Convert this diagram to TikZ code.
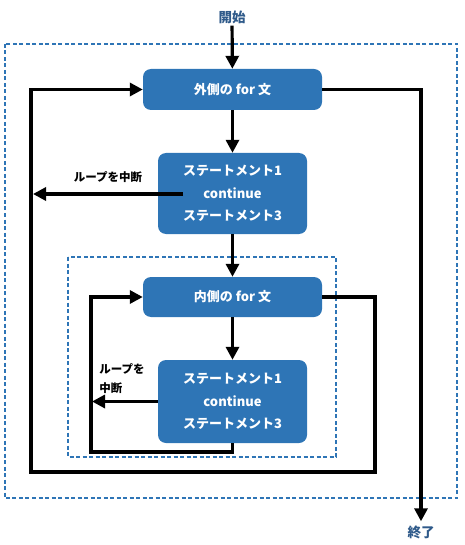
\documentclass[tikz,border=0pt]{standalone}
\usepackage{fontspec}
\setmainfont{Noto Sans CJK JP}
\usetikzlibrary{arrows.meta}
\definecolor{boxblue}{HTML}{2E75B6}
\definecolor{titleblue}{HTML}{2F5A8A}
\tikzset{
  proc/.style={draw=none, fill=boxblue, rounded corners=8pt, text=white,
    font=\fontsize{13}{22.5}\selectfont\bfseries, align=center, inner sep=0pt},
  term/.style={text=titleblue, font=\fontsize{13.5}{16}\selectfont\bfseries, inner sep=2pt},
  lbl/.style={text=black, font=\fontsize{11.5}{19}\selectfont\bfseries, inner sep=0pt},
  arr/.style={line width=3.2pt, -{Triangle[width=13pt,length=13pt]}},
  frame/.style={draw=boxblue, line width=1.5pt, dash pattern=on 4pt off 2.5pt},
}
\begin{document}
\begin{tikzpicture}[x=1pt,y=-1pt]
\useasboundingbox (0,0) rectangle (464,545);
% dashed frames
\draw[frame] (5,44) rectangle (457,498);
\draw[frame] (68,257) rectangle (336,457);
% nodes
\node[term] (start) at (232,17) {開始};
\node[proc, minimum width=179pt, minimum height=41pt] (outer) at (232.5,89.5) {外側の for 文};
\node[proc, minimum width=149pt, minimum height=81pt] (s1) at (232.5,193.5) {ステートメント1\\continue\\ステートメント3};
\node[proc, minimum width=179pt, minimum height=40pt] (inner) at (232.5,297) {内側の for 文};
\node[proc, minimum width=149pt, minimum height=83pt] (s2) at (232.5,401.5) {ステートメント1\\continue\\ステートメント3};
\node[term, inner sep=4pt] (end) at (421,532) {終了};
\node[lbl] (l1) at (108,177) {ループを中断};
\node[lbl, align=left] (l2) at (122,379) {ループを\\中断};
% coordinates
\coordinate (c1) at (375,472);
\coordinate (c2) at (31,89.5);
\coordinate (c3) at (91,452);
\coordinate (b1s) at (183,194);
\coordinate (b1e) at (33,194);
\coordinate (b2e) at (92,401.5);
% connectors
\draw[arr] (start) -- (outer);
\draw[arr] (outer) -- (s1);
\draw[arr] (s1) -- (inner);
\draw[arr] (inner) -- (s2);
\draw[arr] (outer.east) -| (end.north);
\draw[arr] (inner.east) -| (c1) -| (c2) -- (outer.west);
\draw[arr] (s2.south) |- (c3) |- (inner.west);
\draw[arr] (b1s) -- (b1e);
\draw[arr] (s2.west) -- (b2e);
\end{tikzpicture}
\end{document}
